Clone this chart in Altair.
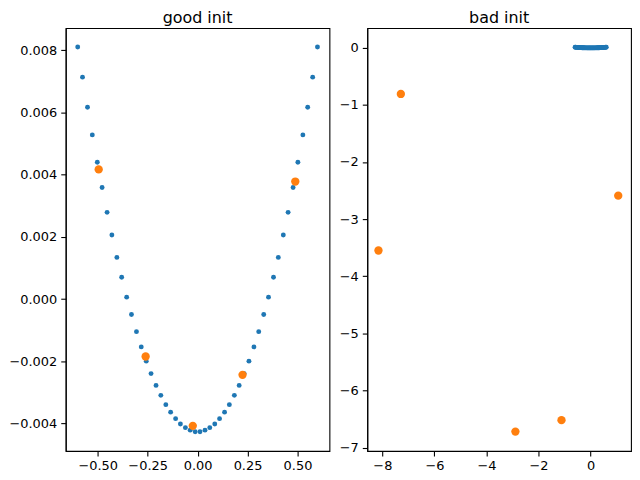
import altair as alt
import pandas as pd

# blue points (same sample shown in both panels)
blue_x = [-0.600, -0.576, -0.551, -0.527, -0.502, -0.478, -0.453, -0.429, -0.404, -0.380,
          -0.355, -0.331, -0.306, -0.282, -0.257, -0.233, -0.208, -0.184, -0.159, -0.135,
          -0.110, -0.086, -0.061, -0.037, -0.012, 0.012, 0.037, 0.061, 0.086, 0.110,
          0.135, 0.159, 0.184, 0.208, 0.233, 0.257, 0.282, 0.306, 0.331, 0.355,
          0.380, 0.404, 0.429, 0.453, 0.478, 0.502, 0.527, 0.551, 0.576, 0.600]
blue_y = [0.00811, 0.00714, 0.00617, 0.00528, 0.00440, 0.00359, 0.00279, 0.00206, 0.00134, 0.00070,
          0.00006, -0.00050, -0.00105, -0.00154, -0.00200, -0.00240, -0.00278, -0.00310, -0.00340, -0.00364,
          -0.00385, -0.00402, -0.00414, -0.00422, -0.00427, -0.00427, -0.00422, -0.00414, -0.00402, -0.00385,
          -0.00364, -0.00340, -0.00310, -0.00278, -0.00240, -0.00200, -0.00154, -0.00105, -0.00050, 0.00006,
          0.00070, 0.00134, 0.00206, 0.00279, 0.00359, 0.00440, 0.00528, 0.00617, 0.00714, 0.00811]

# orange points, good init
good_x = [-0.495, -0.260, -0.024, 0.225, 0.489]
good_y = [0.00417, -0.00185, -0.00408, -0.00244, 0.00378]

# orange points, bad init
bad_x = [-8.15, -7.29, -2.89, -1.12, 1.06]
bad_y = [-3.55, -0.81, -6.72, -6.52, -2.59]

good_xticks = [-0.5, -0.25, 0.0, 0.25, 0.5]
good_yticks = [-0.004, -0.002, 0.0, 0.002, 0.004, 0.006, 0.008]
bad_xticks = [-8, -6, -4, -2, 0]
bad_yticks = [0, -1, -2, -3, -4, -5, -6, -7]

BLUE = "#1f77b4"
ORANGE = "#ff7f0e"

blue_df = pd.DataFrame({"x": blue_x, "y": blue_y})
good_df = pd.DataFrame({"x": good_x, "y": good_y})
bad_df = pd.DataFrame({"x": bad_x, "y": bad_y})


def panel(orange_df, xdom, ydom, xticks, yticks, xfmt, yfmt, title):
    xs = alt.Scale(domain=xdom, nice=False, zero=False)
    ys = alt.Scale(domain=ydom, nice=False, zero=False)
    xa = alt.Axis(values=xticks, format=xfmt, title=None)
    ya = alt.Axis(values=yticks, format=yfmt, title=None)
    b = alt.Chart(blue_df).mark_circle(color=BLUE, size=24, opacity=1).encode(
        x=alt.X("x:Q", scale=xs, axis=xa),
        y=alt.Y("y:Q", scale=ys, axis=ya),
    )
    o = alt.Chart(orange_df).mark_circle(color=ORANGE, size=70, opacity=1).encode(
        x=alt.X("x:Q", scale=xs, axis=xa),
        y=alt.Y("y:Q", scale=ys, axis=ya),
    )
    return alt.layer(b, o).properties(width=265, height=425, title=title)


left = panel(good_df, [-0.66, 0.66], [-0.00489, 0.00872], good_xticks, good_yticks,
             ".2f", ".3f", "good init")
right = panel(bad_df, [-8.58, 1.55], [-7.06, 0.344], bad_xticks, bad_yticks,
              "d", "d", "bad init")

chart = alt.hconcat(left, right, spacing=8).properties(padding=0).configure_view(
    stroke="black", strokeWidth=1.1
).configure_axis(
    labelFont="DejaVu Sans", labelFontSize=13, labelColor="black",
    tickColor="black", domainColor="black", domainWidth=1.1, tickWidth=1.1,
    tickSize=5, labelPadding=4, grid=False
).configure_title(
    font="DejaVu Sans", fontSize=16, fontWeight="normal", color="black",
    anchor="middle", offset=2
)

chart.save("out.html", embed_options={"renderer": "svg", "actions": False})
